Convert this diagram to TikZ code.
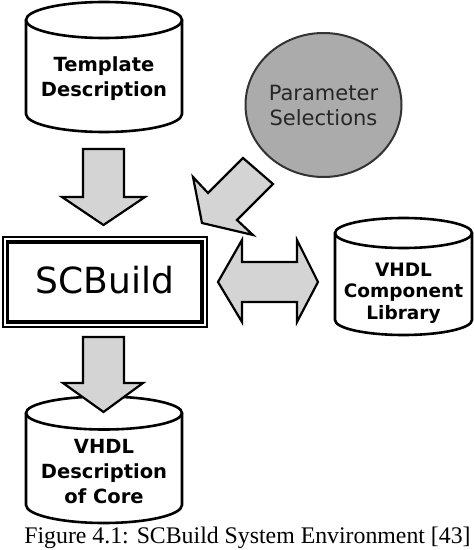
\documentclass[tikz,border=0pt]{standalone}
\usepackage{fontspec}
\setmainfont{DejaVu Sans}
\newfontfamily\capfont{Liberation Serif}
\begin{document}
\begin{tikzpicture}[x=1pt,y=1pt,
  cyl/.style={draw=black,line width=2.6pt,fill=white},
  blockarrow/.style={draw=black,line width=2.2pt,fill=black!17,line join=miter},
  cyltext/.style={font=\bfseries\fontsize{19.5}{25}\selectfont,align=center,inner sep=0pt},
  cyltextsmall/.style={font=\bfseries\fontsize{18.5}{21.5}\selectfont,align=center,inner sep=0pt}]
\useasboundingbox (0,0) rectangle (474,550);
\clip (0,0) rectangle (474,550);

% Template Description cylinder
\draw[cyl] (26,530) -- (26,436) arc[start angle=180,end angle=360,x radius=78pt,y radius=18pt] -- (182,530);
\draw[cyl] (104,530) ellipse[x radius=78pt,y radius=18pt];
\node[cyltext] (tmpl) at (104,471) {Template\\Description};

% Parameter Selections
\draw[draw=black!80,line width=2pt,fill=black!33] (323.5,445) ellipse[x radius=78pt,y radius=72pt];
\node[font=\fontsize{21}{25}\selectfont,align=center,inner sep=0pt,text=black!85] (param) at (323.5,445) {Parameter\\Selections};

% SCBuild box
\draw[line width=2pt] (3,223) rectangle (207,313);
\draw[line width=3.5pt] (7.5,228) rectangle (202,308);
\node[font=\fontsize{36}{40}\selectfont,inner sep=0pt] (scb) at (105,270) {SCBuild};

% VHDL Component Library cylinder
\draw[cyl] (335,317) -- (335,230) arc[start angle=180,end angle=360,x radius=68.5pt,y radius=15pt] -- (472,317);
\draw[cyl] (403.5,317) ellipse[x radius=68.5pt,y radius=15pt];
\node[cyltextsmall] (lib) at (403.5,257) {VHDL\\Component\\Library};

% VHDL Description of Core cylinder
\draw[cyl] (26,137) -- (26,45) arc[start angle=180,end angle=360,x radius=78pt,y radius=18pt] -- (182,137);
\draw[cyl] (104,137) ellipse[x radius=78pt,y radius=16.5pt];
\node[cyltext] (core) at (104,78) {VHDL\\Description\\of Core};

% arrow Template -> SCBuild
\draw[blockarrow] (83,401) -- (124,401) -- (124,353) -- (145,353) -- (103.5,325) -- (62,353) -- (83,353) -- cycle;
% arrow Parameter -> SCBuild
\draw[blockarrow] (243,392) -- (273,366) -- (237,330) -- (253,315) -- (202,327) -- (193,373) -- (208,357) -- cycle;
% double arrow SCBuild <-> Library
\draw[blockarrow] (218,268) -- (242,310) -- (242,288) -- (297,288) -- (297,310) -- (318,268) -- (297,228) -- (297,248) -- (242,248) -- (242,228) -- cycle;
% arrow SCBuild -> Core
\draw[blockarrow] (83,213) -- (124,213) -- (124,167) -- (143,167) -- (103.5,138) -- (63,167) -- (83,167) -- cycle;

% caption
\node[font=\capfont\fontsize{23.8}{26}\selectfont,anchor=base,inner sep=0pt] (cap) at (247.5,6) {Figure 4.1: SCBuild System Environment [43]};
\end{tikzpicture}
\end{document}
